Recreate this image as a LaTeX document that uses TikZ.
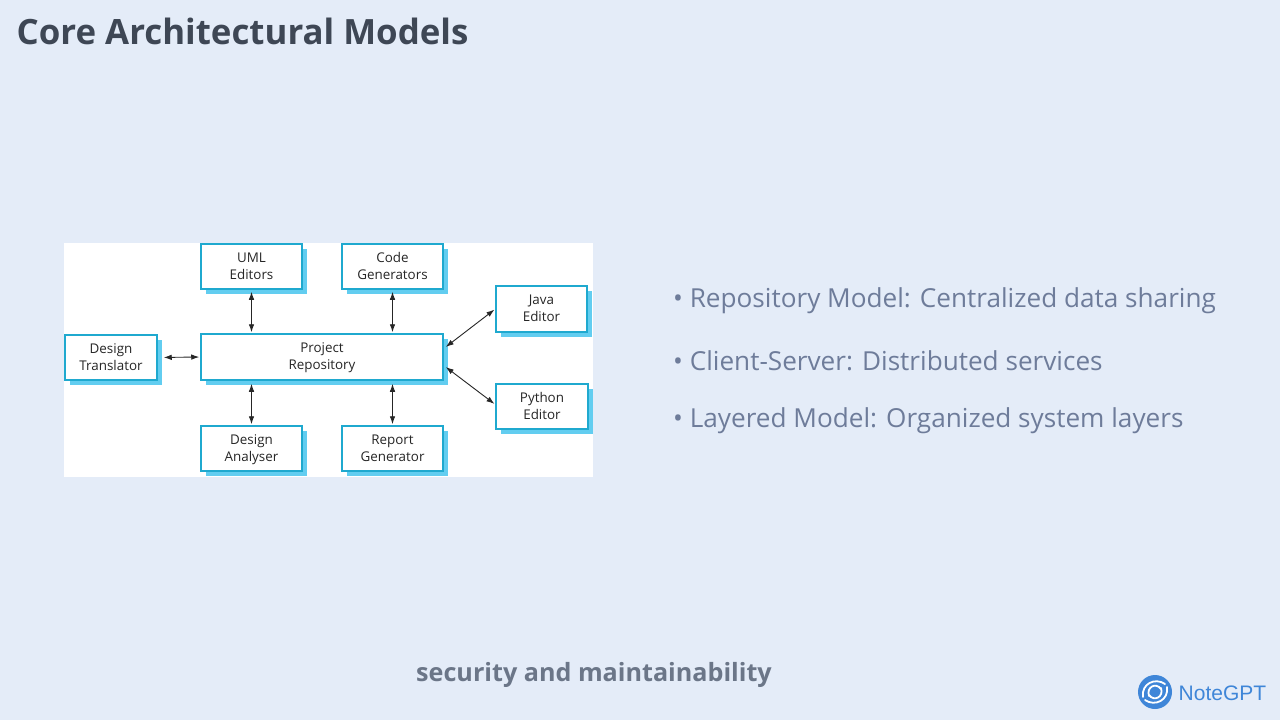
\documentclass[tikz,border=0pt]{standalone}
\usepackage{fontspec}
\setmainfont{Open Sans}
\newfontfamily\logofont{Liberation Sans}
\usepackage{xcolor}
\usetikzlibrary{shadows,arrows.meta}
\definecolor{slidebg}{HTML}{E4ECF8}
\definecolor{titlecol}{HTML}{3E4755}
\definecolor{bulletcol}{HTML}{6E7C9A}
\definecolor{subcol}{HTML}{6B7688}
\definecolor{boxcol}{HTML}{1FA9CF}
\definecolor{shadowcol}{HTML}{62CDF0}
\definecolor{logocol}{HTML}{3F86D8}
\tikzset{repbox/.style={draw=boxcol,fill=white,line width=1.5pt,align=center,inner sep=0pt,
    	font=\fontsize{13.4}{16.6}\selectfont,text=black!85,text height=30pt,text depth=5pt,
    	drop shadow={shadow xshift=5pt,shadow yshift=-5pt,fill=shadowcol,opacity=1}},
    	bullet/.style={anchor=base west,inner sep=0pt,text=bulletcol,font=\fontsize{26.15}{30}\selectfont},
    	link/.style={{Latex[length=8pt,width=5.5pt]}-{Latex[length=8pt,width=5.5pt]},line width=0.9pt,black!85},
    	swirl/.style={white,line width=1.8pt,line cap=round}}

\begin{document}
\begin{tikzpicture}
		[x=1pt,y=-1pt]
		\fill[slidebg] (0,0) rectangle (1280,720);
		\useasboundingbox (0,0) rectangle (1280,720);
		\node[anchor=base west,inner sep=0pt,text=titlecol,font=\fontsize{34.85}{42}\selectfont\bfseries] (title) at (16.5,44){Core Architectural Models};
		\fill[white] (64,243) rectangle (593,477);
		% boxes
		\node[repbox,minimum width=101pt,minimum height=45pt] (uml) at (251.5,266.5){UML\\Editors};
		\node[repbox,minimum width=101pt,minimum height=45pt] (code) at (392.5,266.5){Code\\Generators};
		\node[repbox,minimum width=242pt,minimum height=46pt] (proj) at (322,357){Project\\Repository};
		\node[repbox,minimum width=92pt,minimum height=45pt] (trans) at (111,357.5){Design\\Translator};
		\node[repbox,minimum width=91pt,minimum height=46pt] (java) at (541.5,309){Java\\Editor};
		\node[repbox,minimum width=92pt,minimum height=45pt] (python) at (542,406.5){Python\\Editor};
		\node[repbox,minimum width=101pt,minimum height=45pt] (ana) at (251.5,448.5){Design\\Analyser};
		\node[repbox,minimum width=101pt,minimum height=45pt] (rep) at (392.5,448.5){Report\\Generator};
		% arrows
		\draw[link,shorten <=2pt,shorten >=1pt] (uml.south) -- (uml.south |- proj.north);
		\draw[link,shorten <=2pt,shorten >=1pt] (code.south) -- (code.south |- proj.north);
		\draw[link,shorten <=3pt,shorten >=1pt] (uml.south |- proj.south) -- (ana.north);
		\draw[link,shorten <=3pt,shorten >=1pt] (code.south |- proj.south) -- (rep.north);
		\draw[link,shorten <=6pt,shorten >=1pt] (trans.east) -- (proj.west);
		\draw[link,shorten >=1pt] ([shift={(2pt,10pt)}]proj.east) -- (java.west);
		\draw[link,shorten >=1pt] ([shift={(2pt,-10pt)}]proj.east) -- ([yshift=2pt]python.west);
		% text on the right
		\node[bullet] (b1) at (673,307){• Repository Model: Centralized data sharing};
		\node[bullet] (b2) at (673,370){• Client-Server: Distributed services};
		\node[bullet] (b3) at (673,427){• Layered Model: Organized system layers};
		\node[anchor=base west,inner sep=0pt,text=subcol,font=\fontsize{25.15}{31}\selectfont\bfseries] (sub) at (416,681){security and maintainability};
		% logo
		\fill[logocol] (1155,692) circle (17);
		\draw[swirl] (1143,697) .. controls (1141,684) and (1155,677) .. (1165,684);
		\draw[swirl] (1167,687) .. controls (1169,700) and (1155,707) .. (1145,700);
		\draw[swirl] (1149,696) .. controls (1146,687) and (1156,682) .. (1161,689);
		\draw[swirl] (1161,688) .. controls (1164,697) and (1154,702) .. (1149,695);
		\node[anchor=west,inner sep=0pt,text=logocol,font=\logofont\fontsize{21}{24}\selectfont] (logo) at (1178.5,693){NoteGPT};
		\end{tikzpicture}
\end{document}
